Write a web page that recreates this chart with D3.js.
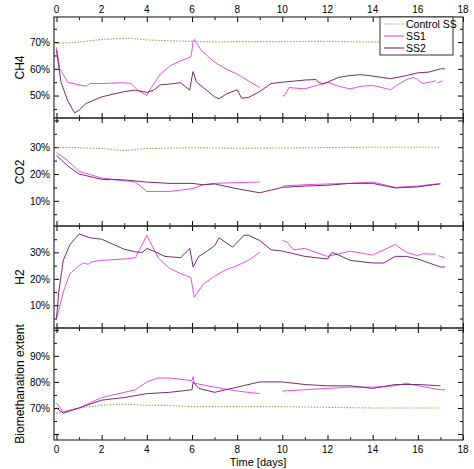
<!DOCTYPE html><html><head><meta charset="utf-8"><script src="https://cdn.jsdelivr.net/npm/d3@7"></script>
<style>body{margin:0;background:#fff}text{font-family:"Liberation Sans",Arial,sans-serif}</style></head><body><svg id="c" width="474" height="469"></svg><script>
const xTicks=[0,2,4,6,8,10,12,14,16,18];
const seriesNames=["Control SS","SS1","SS2"];
const panelTitles=["CH4","CO2","H2","Biomethanation extent"];
const panelYTicks=[[50,60,70],[10,20,30],[10,20,30],[70,80,90]];
// [x,y] pairs; null = gap
const ch4Control=[[0,69.5],[1,70],[2,71],[3.2,71.5],[4,70.8],[5,70.5],[6,70.3],[7,70],[8,70.2],[10,70.2],[12,70.3],[14,70],[17,70]];
const ch4SS1=[[0,68],[0.15,60],[0.5,55],[1,54],[1.3,53.5],[1.5,54.5],[2,54.5],[3,54.8],[3.3,54.5],[3.6,52],[4,50],[4.2,53],[4.6,58],[5,61],[5.5,63],[5.95,64.5],[6.0,67],[6.05,70.5],[6.1,71],[6.4,67],[7,62.5],[7.5,60],[8,58],[8.5,55.5],[9,53],null,[10,49.8],[10.1,50],[10.3,53],[11,52.5],[11.6,54],[12,55],[12.5,53.5],[13,52.5],[13.5,53.5],[14,53.8],[14.8,52.2],[15,53.5],[15.5,56],[15.8,56.8],[16,56],[16.2,54.5],[16.8,55.5],null,[16.85,54.7],[17.1,55.5]];
const ch4SS2=[[0,67],[0.2,55],[0.5,48],[0.8,43.5],[1,44.5],[1.3,47],[2,49.5],[3,51.5],[3.5,52],[4,51.2],[4.3,52],[4.6,54],[5,54.3],[5.5,54.8],[5.9,52],[6.0,57],[6.05,59],[6.2,55],[6.5,53],[7,49.5],[7.2,48.8],[7.5,50.5],[8,52.2],[8.2,49],[8.5,49.3],[9,51.5],[9.5,54.5],[10,55],[11,55.8],[11.5,56],[11.6,55],[11.8,54.3],[12,55],[12.5,56.8],[13,57.5],[13.5,57.8],[14,57.3],[14.8,56.3],[15.5,57.5],[16,58.5],[16.5,58.8],[17,60],[17.2,60]];
const co2Control=[[0,30],[1,29.8],[2,29.5],[3,28.8],[4,29.5],[6,29.8],[8,29.6],[10,29.7],[14,30],[17,30]];
const co2SS1=[[0,28],[0.5,25],[1,21],[2,18.5],[3,17.5],[3.5,17],[4,13.5],[5,13.5],[5.5,14],[6,14.5],[6.5,16],[7,16.5],[8,16.8],[9,17],null,[10,15.5],[11,16],[12,16.3],[13,16.5],[14,17],[15,15],[16,15.5],[17,16.5]];
const co2SS2=[[0,27],[0.5,23],[1,20],[2,18],[3,17.8],[4,17],[5,16.5],[6,16.5],[6.5,16],[7,16.3],[8,14.5],[9,13],[10,15],[11,15.5],[12,15.8],[13,16.5],[14,16.5],[15,14.8],[16,15.2],[17,16.3]];
const h2Control=[];
const h2SS1=[[0,5],[0.1,8],[0.3,15],[0.6,22],[1,25],[1.2,26],[1.4,25.5],[1.6,26.5],[2,27],[3,27.5],[3.5,28],[4,36.5],[4.5,28],[5,24],[5.5,22],[5.95,20.5],[6,18],[6.1,13],[6.5,18],[7,21],[7.5,23.5],[8,25],[8.5,27],[9,30],null,[10,34.5],[10.2,34],[10.5,31],[11,31.5],[11.5,30],[12,28.5],[13,30.5],[14,29],[15,33],[15.5,30],[16,28.8],[16.2,29.5],[16.8,29.3],null,[16.9,28.8],[17.2,28]];
const h2SS2=[[0,5],[0.1,15],[0.3,27],[0.6,33],[1,37],[1.5,35.5],[2,35],[3,31.2],[3.5,30.2],[3.8,30],[4,31.5],[4.3,30.5],[4.8,28.5],[5.5,28],[5.9,31.5],[6,27],[6.05,24.5],[6.3,28.5],[6.5,29.5],[7,32.5],[7.2,35.5],[7.8,32],[8.3,36.5],[8.5,36.5],[9,34.5],[9.5,31],[10,30.5],[11,28.5],[11.5,28],[12,27.5],[12.2,30],[12.5,29],[13,27],[14,26],[14.5,26],[15,28.5],[15.5,28.5],[16,27.5],[17,24.5],[17.2,24.5]];
const bmControl=[[0,68],[0.5,69],[1,70],[2,71],[3,71.5],[4,71],[5,71],[6,70.5],[7,70.5],[10,70.5],[14,70],[17,70]];
const bmSS1=[[0,72],[0.3,68.5],[1,70],[2,74],[3,76],[3.5,77],[4,80],[4.5,81.5],[5,81.5],[6,80.5],[6.05,82],[6.1,79.5],[7,78],[8,76.5],[9,75.5],null,[10,76.5],[11,77],[12,77.5],[13,78],[14,78],[15,78.5],[15.5,79.5],[16,78.5],[17,77],[17.2,77]];
const bmSS2=[[0,70],[0.3,68],[1,70],[2,73],[3,74],[4,75.5],[5,76],[6,77],[6.05,80],[6.3,77.5],[7,76],[8,78],[9,80],[10,80],[11,79],[12,78.5],[13,78.5],[14,77.5],[15,79],[16,79],[17,78.5]];
const panelData=[[ch4Control,ch4SS1,ch4SS2],[co2Control,co2SS1,co2SS2],[h2Control,h2SS1,h2SS2],[bmControl,bmSS1,bmSS2]];
const panelDomains=[[41.6,79.4],[0.6,40.9],[1.4,40],[57.7,100.7]];
const panelPx=[[17,118],[118,226],[226,328],[328,440]];
const colors=["#a0a050","#e84ee8","#7a2a7a"];
const svg=d3.select("#c");
const x=d3.scaleLinear().domain([-0.11,18]).range([54,463]);
panelData.forEach((series,i)=>{
  const [t,b]=panelPx[i];
  const y=d3.scaleLinear().domain(panelDomains[i]).range([b,t]);
  const g=svg.append("g");
  // x ticks inward
  const xa=d3.axisBottom(x).tickValues(d3.range(0,19,1)).tickSize(-4).tickFormat("");
  g.append("g").attr("transform",`translate(0,${b})`).call(xa).call(s=>{s.select(".domain").remove();s.selectAll("line").attr("stroke-width",d=>d%2?0.8:1).attr("y2",d=>d%2?-3:-5);});
  const xt=d3.axisTop(x).tickValues(d3.range(0,19,1)).tickSize(-4).tickFormat("");
  g.append("g").attr("transform",`translate(0,${t})`).call(xt).call(s=>{s.select(".domain").remove();s.selectAll("line").attr("y2",d=>d%2?3:5);});
  const yv=d3.range(Math.ceil(panelDomains[i][0]/5)*5,panelDomains[i][1],5);
  const ya=d3.axisLeft(y).tickValues(yv).tickSize(-4).tickFormat(d=>panelYTicks[i].includes(d)?d+"%":"");
  g.append("g").attr("transform",`translate(54,0)`).call(ya).call(s=>{s.select(".domain").remove();s.selectAll("line").attr("x2",d=>d%10?3:5);s.selectAll("text").attr("x",-4).attr("font-size",10).attr("font-family","Liberation Sans, Arial");});
  const yr=d3.axisRight(y).tickValues(yv).tickSize(-4).tickFormat("");
  g.append("g").attr("transform",`translate(463,0)`).call(yr).call(s=>{s.select(".domain").remove();s.selectAll("line").attr("x2",d=>d%10?-3:-5);});
  g.append("rect").attr("x",54).attr("y",t).attr("width",409).attr("height",b-t).attr("fill","none").attr("stroke","#333").attr("stroke-width",1.2);
  g.append("text").attr("transform",`translate(24,${(t+b)/2}) rotate(-90)`).attr("text-anchor","middle").attr("font-size",12).text(panelTitles[i]);
  const line=d3.line().defined(d=>d!==null).x(d=>x(d[0])).y(d=>y(d[1]));
  series.forEach((s,k)=>{ if(!s.length) return;
    g.append("path").attr("d",line(s)).attr("fill","none").attr("stroke",colors[k]).attr("stroke-width",k?1:1.1).attr("stroke-dasharray",k?null:"1.5,1.5");
  });
});
// top axis labels
svg.append("g").selectAll("text").data(xTicks).join("text").attr("x",d=>x(d)).attr("y",13).attr("text-anchor","middle").attr("font-size",10).text(d=>d);
svg.append("g").selectAll("text").data(xTicks).join("text").attr("x",d=>x(d)).attr("y",453).attr("text-anchor","middle").attr("font-size",10).text(d=>d);
svg.append("text").attr("x",258).attr("y",466).attr("text-anchor","middle").attr("font-size",11).text("Time [days]");
// legend
const lg=svg.append("g");
lg.append("rect").attr("x",380).attr("y",17).attr("width",73).attr("height",38).attr("fill","#fff").attr("stroke","#333");
seriesNames.forEach((n,k)=>{const yy=24+k*12;
  lg.append("line").attr("x1",384).attr("x2",404).attr("y1",yy).attr("y2",yy).attr("stroke",colors[k]).attr("stroke-width",1.1).attr("stroke-dasharray",k?null:"1.5,1.5");
  lg.append("text").attr("x",406).attr("y",yy+3.5).attr("font-size",10.5).text(n);});
</script></body></html>
